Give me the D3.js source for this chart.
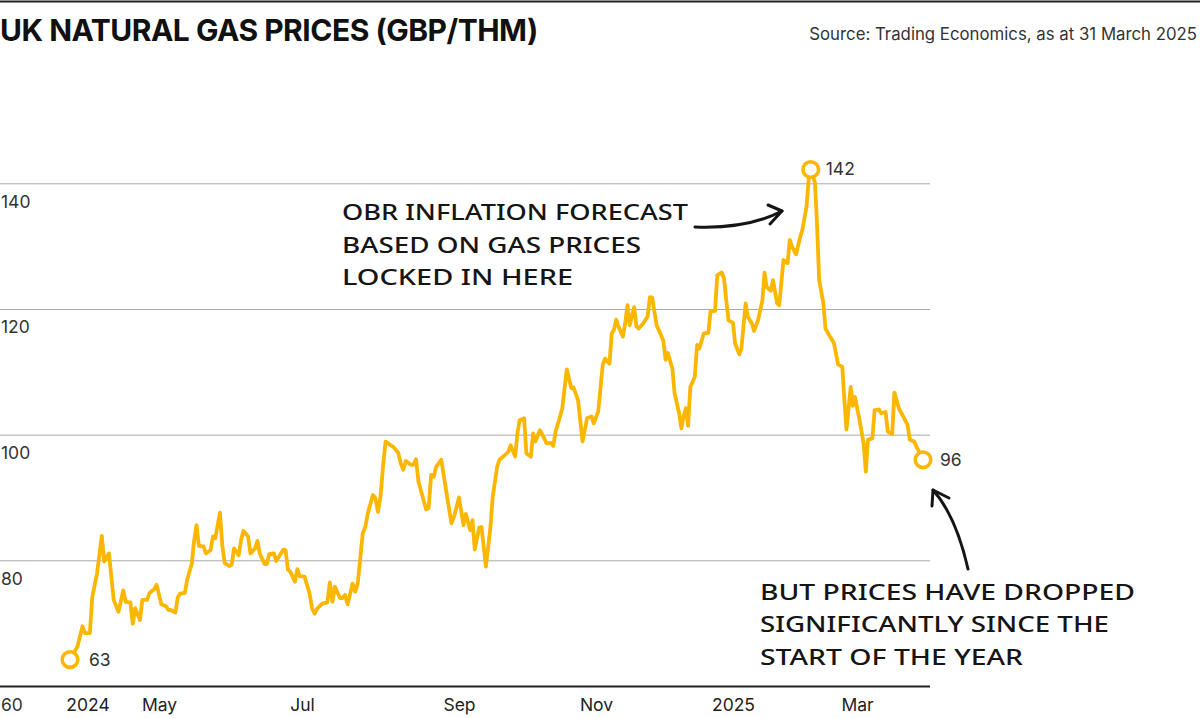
<!DOCTYPE html>
<html>
<head>
<meta charset="utf-8">
<script src="https://cdn.jsdelivr.net/npm/d3@7"></script>
<style>
  html, body { margin: 0; padding: 0; background: #fff; }
  svg { display: block; }
</style>
</head>
<body>
<svg id="chart" width="1200" height="718"></svg>
<script>
// ---------------- DATA ----------------
const dates = [
"2024-03-25","2024-03-28","2024-03-30","2024-03-31","2024-04-02","2024-04-03","2024-04-05","2024-04-07","2024-04-08","2024-04-10",
"2024-04-12","2024-04-14","2024-04-16","2024-04-17","2024-04-19","2024-04-20","2024-04-21","2024-04-23","2024-04-24","2024-04-26",
"2024-04-27","2024-04-29","2024-04-30","2024-05-02","2024-05-04","2024-05-05","2024-05-06","2024-05-08","2024-05-09","2024-05-10",
"2024-05-12","2024-05-13","2024-05-15","2024-05-16","2024-05-17","2024-05-18","2024-05-20","2024-05-21","2024-05-23","2024-05-24",
"2024-05-25","2024-05-27","2024-05-28","2024-05-29","2024-05-31","2024-06-01","2024-06-02","2024-06-04","2024-06-05","2024-06-06",
"2024-06-08","2024-06-09","2024-06-11","2024-06-12","2024-06-13","2024-06-15","2024-06-16","2024-06-17","2024-06-19","2024-06-20",
"2024-06-21","2024-06-23","2024-06-24","2024-06-25","2024-06-26","2024-06-28","2024-06-29","2024-06-30","2024-07-02","2024-07-04",
"2024-07-05","2024-07-06","2024-07-07","2024-07-09","2024-07-11","2024-07-12","2024-07-13","2024-07-14","2024-07-16","2024-07-17",
"2024-07-18","2024-07-19","2024-07-21","2024-07-22","2024-07-23","2024-07-25","2024-07-26","2024-07-27","2024-07-29","2024-07-30",
"2024-07-31","2024-08-01","2024-08-02","2024-08-03","2024-08-05","2024-08-06","2024-08-08","2024-08-09","2024-08-10","2024-08-11",
"2024-08-13","2024-08-14","2024-08-15","2024-08-16","2024-08-18","2024-08-19","2024-08-20","2024-08-21","2024-08-22","2024-08-23",
"2024-08-25","2024-08-27","2024-08-29","2024-08-30","2024-09-01","2024-09-03","2024-09-04","2024-09-06","2024-09-07","2024-09-08",
"2024-09-10","2024-09-11","2024-09-13","2024-09-15","2024-09-16","2024-09-18","2024-09-19","2024-09-21","2024-09-23","2024-09-24",
"2024-09-26","2024-09-27","2024-09-28","2024-09-30","2024-10-01","2024-10-03","2024-10-04","2024-10-05","2024-10-07","2024-10-09",
"2024-10-10","2024-10-12","2024-10-13","2024-10-14","2024-10-16","2024-10-17","2024-10-19","2024-10-21","2024-10-22","2024-10-24",
"2024-10-25","2024-10-26","2024-10-28","2024-10-30","2024-10-31","2024-11-02","2024-11-04","2024-11-05","2024-11-07","2024-11-08",
"2024-11-09","2024-11-10","2024-11-11","2024-11-13","2024-11-14","2024-11-15","2024-11-16","2024-11-18","2024-11-19","2024-11-20",
"2024-11-22","2024-11-24","2024-11-25","2024-11-26","2024-11-28","2024-11-30","2024-12-01","2024-12-02","2024-12-03","2024-12-05",
"2024-12-06","2024-12-08","2024-12-09","2024-12-10","2024-12-11","2024-12-12","2024-12-13","2024-12-15","2024-12-16","2024-12-17",
"2024-12-19","2024-12-21","2024-12-22","2024-12-24","2024-12-25","2024-12-27","2024-12-28","2024-12-29","2024-12-30","2025-01-01",
"2025-01-02","2025-01-04","2025-01-05","2025-01-07","2025-01-08","2025-01-10","2025-01-11","2025-01-13","2025-01-15","2025-01-16",
"2025-01-17","2025-01-19","2025-01-20","2025-01-22","2025-01-23","2025-01-25","2025-01-27","2025-01-28","2025-01-29","2025-01-31",
"2025-02-02","2025-02-03","2025-02-05","2025-02-06","2025-02-07","2025-02-09","2025-02-10","2025-02-11","2025-02-13","2025-02-14",
"2025-02-16","2025-02-18","2025-02-20","2025-02-22","2025-02-23","2025-02-24","2025-02-26","2025-02-27","2025-02-28","2025-03-02",
"2025-03-04","2025-03-05","2025-03-06","2025-03-08","2025-03-09","2025-03-11","2025-03-12","2025-03-14","2025-03-15","2025-03-17",
"2025-03-18","2025-03-20","2025-03-22","2025-03-24","2025-03-25","2025-03-27","2025-03-28","2025-03-30","2025-03-31"
];

const prices = [
64.2, 66.3, 69.5, 68.4, 68.4, 74.2, 77.9, 83.9, 79.8, 81.1,
73.7, 71.8, 75.2, 73.4, 73.3, 69.9, 72.4, 70.5, 73.7, 73.7,
74.8, 75.4, 76.1, 73.0, 72.7, 72.1, 72.1, 71.7, 74.1, 74.7,
74.8, 76.9, 79.5, 83.2, 85.6, 82.3, 82.2, 81.1, 81.6, 83.8,
83.5, 87.6, 82.4, 79.6, 79.1, 79.3, 81.9, 80.8, 83.2, 84.7,
83.8, 81.1, 81.9, 83.1, 81.1, 79.4, 79.4, 81.0, 81.1, 79.9,
80.5, 81.7, 81.6, 78.5, 78.2, 76.6, 78.6, 77.5, 77.4, 74.7,
72.3, 71.5, 72.3, 73.1, 73.3, 76.5, 73.4, 75.8, 74.0, 74.0,
74.5, 73.0, 76.3, 75.0, 76.3, 84.3, 85.3, 87.5, 90.4, 89.9,
87.7, 90.1, 94.9, 98.9, 98.3, 98.1, 97.1, 95.4, 94.4, 95.8,
95.2, 95.2, 96.1, 92.5, 89.6, 88.1, 88.3, 93.6, 93.3, 94.9,
96.0, 90.9, 85.9, 86.9, 90.0, 85.6, 87.4, 84.8, 86.4, 81.7,
85.2, 85.3, 79.0, 85.3, 90.1, 94.9, 96.0, 96.6, 97.3, 98.3,
96.5, 100.2, 102.3, 102.6, 97.0, 96.5, 100.2, 98.9, 100.7, 99.4,
98.6, 98.7, 98.2, 100.5, 102.9, 104.2, 110.4, 107.4, 107.5, 105.5,
102.3, 98.9, 102.6, 102.9, 101.8, 103.7, 111.1, 112.1, 111.3, 116.1,
116.7, 118.3, 117.2, 115.6, 117.7, 120.6, 117.4, 120.3, 117.2, 116.9,
117.7, 118.8, 121.9, 121.8, 117.4, 115.8, 114.9, 111.9, 113.0, 110.5,
106.6, 103.4, 101.0, 102.9, 104.2, 101.4, 107.6, 109.2, 114.3, 113.7,
116.1, 116.2, 119.6, 119.7, 125.4, 125.8, 124.9, 121.4, 118.2, 117.8,
114.5, 112.8, 113.7, 120.9, 118.8, 117.7, 116.5, 118.3, 121.4, 125.8,
123.5, 122.9, 124.6, 120.9, 120.6, 127.8, 127.3, 131.0, 130.0, 128.7,
131.5, 132.6, 136.3, 140.6, 142.2, 140.1, 133.2, 124.6, 120.9, 116.9,
115.7, 114.6, 111.2, 110.8, 105.5, 100.8, 107.6, 104.6, 106.0, 102.6,
98.6, 94.1, 99.2, 99.4, 103.9, 104.0, 103.4, 103.6, 100.5, 100.1,
106.7, 104.2, 102.9, 101.5, 99.2, 98.9, 98.1, 96.8, 96.0
];

const yTicks = [60, 80, 100, 120, 140];
const xTickDates = ["2024-04-01","2024-05-01","2024-07-01","2024-09-01","2024-11-01","2025-01-01","2025-03-01"];
const xTickLabels = ["2024","May","Jul","Sep","Nov","2025","Mar"];
const calloutLabels = ["63", "142", "96"];

const title = "UK NATURAL GAS PRICES (GBP/THM)";
const source = "Source: Trading Economics, as at 31 March 2025";
const note1 = ["OBR INFLATION FORECAST", "BASED ON GAS PRICES", "LOCKED IN HERE"];
const note2 = ["BUT PRICES HAVE DROPPED", "SIGNIFICANTLY SINCE THE", "START OF THE YEAR"];

// ---------------- CHART ----------------
const parse = d3.timeParse("%Y-%m-%d");
const data = dates.map((d, i) => ({ date: parse(d), value: prices[i] }));

const svg = d3.select("#chart");
const W = 1200, H = 718;
const plotLeft = 0, plotRight = 930;
const LINE = "#fbb700";
const INK = "#222";

// x: time scale, anchored at the start of data, axis ticks and end of data
const xDomain = [dates[0]].concat(xTickDates, [dates[dates.length - 1]]).map(parse);
const x = d3.scaleTime()
  .domain(xDomain)
  .range([70, 87.5, 159, 302, 459, 596, 733, 857, 923]);

const y = d3.scaleLinear().domain([60, 140]).range([686, 183.3]);

// top rule
svg.append("line")
  .attr("x1", 0).attr("x2", W).attr("y1", 1.5).attr("y2", 1.5)
  .attr("stroke", INK).attr("stroke-width", 2);

// title & source
svg.append("text")
  .attr("x", 0).attr("y", 40.5)
  .attr("font-family", "Inter, 'Noto Sans', sans-serif")
  .attr("font-weight", 700)
  .attr("font-size", 30)
  .attr("letter-spacing", -0.5)
  .attr("fill", "#111")
  .text(title);

svg.append("text")
  .attr("x", 1197).attr("y", 40)
  .attr("text-anchor", "end")
  .attr("font-family", "Inter, 'Noto Sans', sans-serif")
  .attr("font-size", 16.8)
  .attr("fill", "#333")
  .text(source);

// y gridlines + labels
const yAxis = d3.axisRight(y)
  .tickValues(yTicks)
  .tickSize(plotRight - plotLeft)
  .tickFormat(d3.format("d"));

const gy = svg.append("g")
  .attr("transform", `translate(${plotLeft},0)`)
  .call(yAxis);
gy.select(".domain").remove();
gy.selectAll(".tick line")
  .attr("stroke", d => d === 60 ? INK : "#a8a8a8")
  .attr("stroke-width", d => d === 60 ? 2 : 1);
gy.selectAll(".tick text")
  .attr("x", 1)
  .attr("dy", 0)
  .attr("y", 24)
  .attr("text-anchor", "start")
  .attr("font-family", "Inter, 'Noto Sans', sans-serif")
  .attr("font-size", 17.5)
  .attr("fill", "#333");

// x axis labels
const xAxis = d3.axisBottom(x)
  .tickValues(xTickDates.map(parse))
  .tickSize(0)
  .tickPadding(0)
  .tickFormat((d, i) => xTickLabels[i]);
const gx = svg.append("g")
  .attr("transform", `translate(0,${y(60)})`)
  .call(xAxis);
gx.select(".domain").remove();
gx.selectAll(".tick text")
  .attr("y", 25)
  .attr("dy", 0)
  .attr("font-family", "Inter, 'Noto Sans', sans-serif")
  .attr("font-size", 17.5)
  .attr("fill", "#222");

// line
const line = d3.line()
  .x(d => x(d.date))
  .y(d => y(d.value))
  .curve(d3.curveLinear);

svg.append("path")
  .datum(data)
  .attr("fill", "none")
  .attr("stroke", LINE)
  .attr("stroke-width", 3.8)
  .attr("stroke-linejoin", "round")
  .attr("stroke-linecap", "round")
  .attr("d", line);

// callout points: first, maximum, last
const maxIdx = d3.maxIndex(data, d => d.value);
const callouts = [
  { d: data[0], label: calloutLabels[0], dx: 19, dy: 6.5 },
  { d: data[maxIdx], label: calloutLabels[1], dx: 15, dy: 6 },
  { d: data[data.length - 1], label: calloutLabels[2], dx: 17, dy: 6.5 }
];
const cg = svg.append("g");
cg.selectAll("circle")
  .data(callouts)
  .join("circle")
  .attr("cx", c => x(c.d.date))
  .attr("cy", c => y(c.d.value))
  .attr("r", 7.8)
  .attr("fill", "#fff")
  .attr("stroke", LINE)
  .attr("stroke-width", 3.6);
cg.selectAll("text")
  .data(callouts)
  .join("text")
  .attr("x", c => x(c.d.date) + c.dx)
  .attr("y", c => y(c.d.value) + c.dy)
  .attr("font-family", "Inter, 'Noto Sans', sans-serif")
  .attr("font-size", 17.5)
  .attr("fill", "#333")
  .text(c => c.label);

// hand-drawn style annotations
function note(lines, x0, y0, widths) {
  const t = svg.append("g");
  lines.forEach((s, i) => {
    t.append("text")
      .attr("x", x0)
      .attr("y", y0 + i * 32.5)
      .attr("font-family", "'Noto Sans', 'Open Sans', sans-serif")
      .attr("font-weight", 500)
      .attr("font-size", 22)
      .attr("textLength", widths[i])
      .attr("lengthAdjust", "spacingAndGlyphs")
      .attr("fill", "#151515")
      .text(s);
  });
}
note(note1, 342, 220, [346, 299, 231]);
note(note2, 760, 599.5, [375, 349, 263]);

// arrows
const arrowStyle = g => g.attr("fill", "none").attr("stroke", "#151515")
  .attr("stroke-width", 3).attr("stroke-linecap", "round").attr("stroke-linejoin", "round");
svg.append("path").attr("d", "M695,227 Q748,229 782,211").call(arrowStyle);
svg.append("path").attr("d", "M768,205 L782,211 L770,224").call(arrowStyle);
svg.append("path").attr("d", "M968,569 Q956,516 933,490").call(arrowStyle);
svg.append("path").attr("d", "M932,506 L933,490 L949,498").call(arrowStyle);
</script>
</body>
</html>
